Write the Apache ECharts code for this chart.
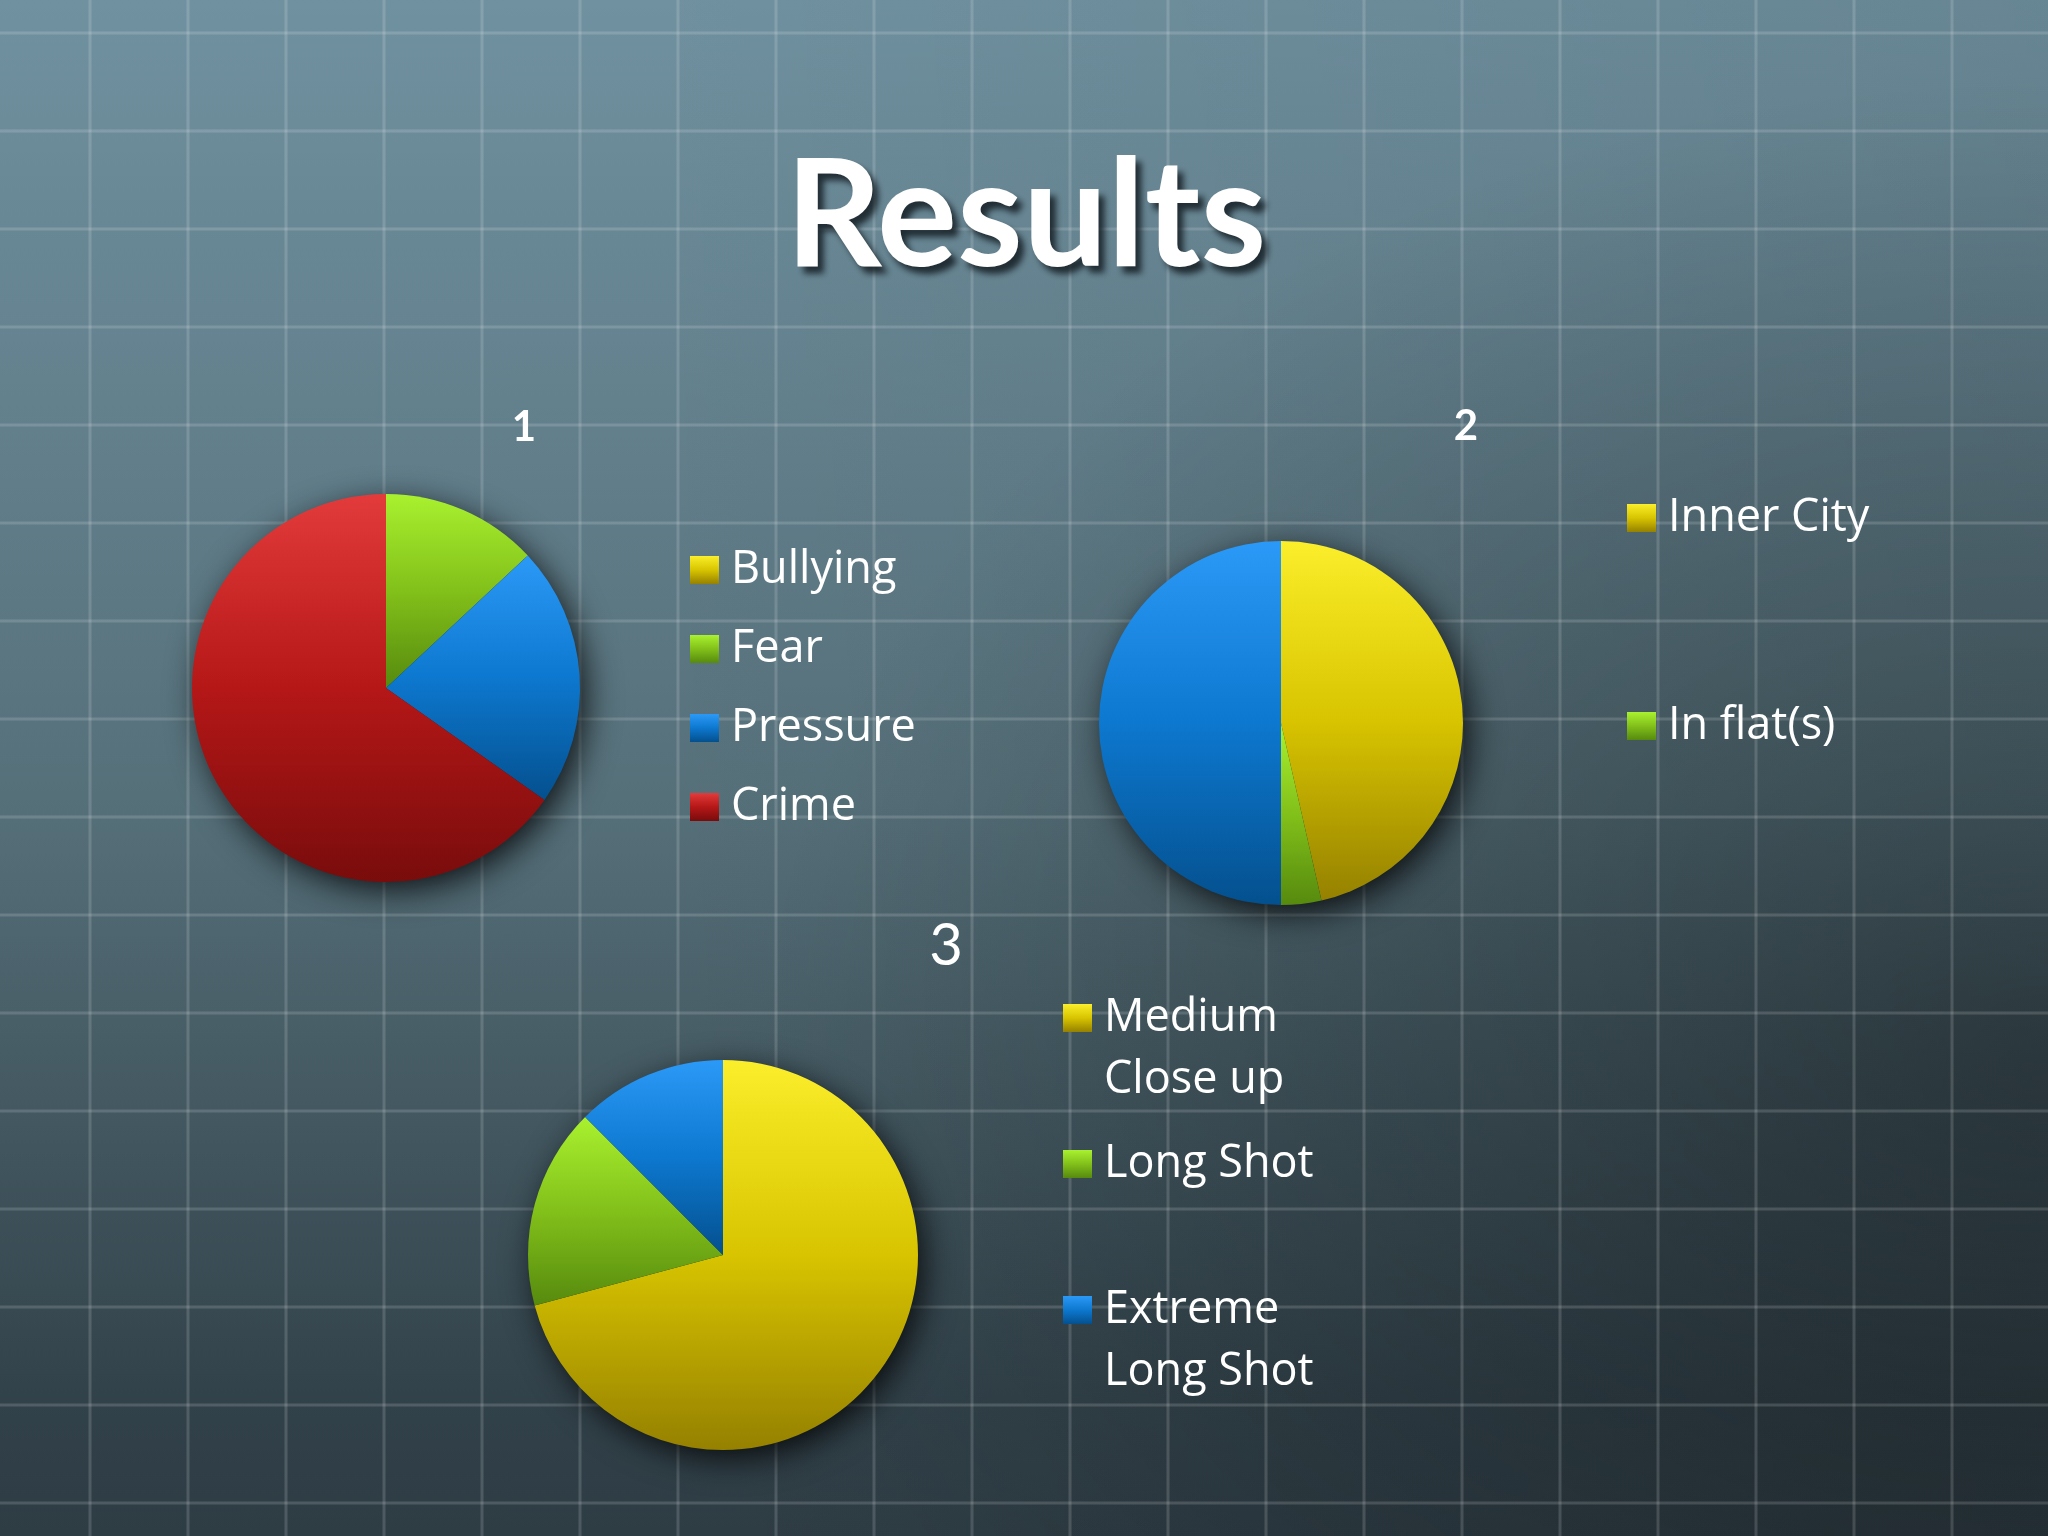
<!DOCTYPE html>
<html>
<head>
<meta charset="utf-8">
<script src="https://cdn.jsdelivr.net/npm/echarts@6/dist/echarts.min.js"></script>
<style>
html, body { margin: 0; padding: 0; width: 2048px; height: 1536px; overflow: hidden; }
body {
  background:
    linear-gradient(to right, rgba(255,255,255,0.15) 0, rgba(255,255,255,0.15) 3px, rgba(255,255,255,0) 3px),
    linear-gradient(to bottom, rgba(255,255,255,0.15) 0, rgba(255,255,255,0.15) 3px, rgba(255,255,255,0) 3px),
    radial-gradient(ellipse 1300px 1000px at 100% 70%, rgba(0,0,0,0.36), rgba(0,0,0,0) 100%),
    linear-gradient(to right, rgba(0,0,0,0) 30%, rgba(0,0,0,0.08) 100%),
    linear-gradient(to bottom, #7091a0 0%, #56707a 52%, #32424a 91%, #2e3c44 100%);
  background-size: 98px 98px, 98px 98px, 100% 100%, 100% 100%, 100% 100%;
  background-position: 88.5px 0, 0 31.5px, 0 0, 0 0, 0 0;
  background-repeat: repeat, repeat, no-repeat, no-repeat, no-repeat;
}
#chart { width: 2048px; height: 1536px; }
</style>
</head>
<body>
<div id="chart"></div>
<script>
// ---- data ----
const mainTitle = 'Results';
const chartTitles = ['1', '2', '3'];

const categories1 = ['Bullying', 'Fear', 'Pressure', 'Crime'];
const values1 = [0, 3, 5, 15];

const categories2 = ['Inner City', 'In flat(s)', ''];
const values2 = [13, 1, 14];

const categories3 = ['Medium\nClose up', 'Long Shot', 'Extreme\nLong Shot'];
const values3 = [17, 4, 3];

// ---- styles ----
const STOPS = {
  yellow: ['#fbee2a', '#d8c400', '#958100'],
  green:  ['#a9f12f', '#82c01a', '#568a0e'],
  blue:   ['#2b99f7', '#0d78cf', '#04508e'],
  red:    ['#e33b3b', '#b51717', '#790c0c']
};
function grad(key) {
  const s = STOPS[key];
  return new echarts.graphic.LinearGradient(0, 0, 0, 1, [
    { offset: 0, color: s[0] }, { offset: 0.5, color: s[1] }, { offset: 1, color: s[2] }
  ]);
}
const colors1 = ['yellow', 'green', 'blue', 'red'];
const colors2 = ['yellow', 'green', 'blue'];
const colors3 = ['yellow', 'green', 'blue'];

function pieData(cats, vals, cols) {
  return cats.map((c, i) => ({ name: c, value: vals[i], itemStyle: { color: grad(cols[i]) } }));
}
function sum(a) { return a.reduce((p, v) => p + v, 0); }

const pies = [
  { center: [386, 688], r: 194, cats: categories1, vals: values1, cols: colors1 },
  { center: [1281, 723], r: 182, cats: categories2, vals: values2, cols: colors2 },
  { center: [723, 1255], r: 195, cats: categories3, vals: values3, cols: colors3 }
];

const series = [];
pies.forEach((p, k) => {
  series.push({
    type: 'pie', z: 1, silent: true, animation: false,
    center: p.center, radius: p.r - 2, startAngle: 90,
    label: { show: false }, labelLine: { show: false },
    itemStyle: { color: '#1a2126', shadowBlur: 34, shadowColor: 'rgba(0,0,0,0.85)', shadowOffsetX: 7, shadowOffsetY: 9 },
    data: [{ name: '__shadow' + k, value: sum(p.vals) }]
  });
  series.push({
    type: 'pie', z: 2, animation: false, silent: true,
    center: p.center, radius: p.r, startAngle: 90, clockwise: true,
    label: { show: false }, labelLine: { show: false },
    emphasis: { disabled: true },
    data: pieData(p.cats, p.vals, p.cols)
  });
});

// multi-line names: an empty leading line keeps the first text line level with the marker
function legend(names, left, top, gap, leadLine) {
  return {
    data: names, orient: 'vertical', left: left, top: top, itemGap: gap,
    itemWidth: 29, itemHeight: 28, icon: 'rect', selectedMode: false, padding: 0,
    formatter: leadLine ? (n => '\n' + n) : (n => n),
    textStyle: { color: '#ffffff', fontFamily: 'Open Sans', fontSize: 45, lineHeight: 62, padding: [0, 0, 0, 7] }
  };
}

const titleBase = { padding: 0, textAlign: 'center', textVerticalAlign: 'middle' };

const option = {
  backgroundColor: 'transparent',
  animation: false,
  title: [
    Object.assign({}, titleBase, {
      text: mainTitle, left: 1026, top: 218,
      textStyle: { color: '#ffffff', fontFamily: 'Lato', fontWeight: 'bold', fontSize: 150,
        textShadowColor: 'rgba(15,22,28,0.8)', textShadowBlur: 6, textShadowOffsetX: 6, textShadowOffsetY: 7 }
    }),
    Object.assign({}, titleBase, {
      text: chartTitles[0], left: 524, top: 427,
      textStyle: { color: '#ffffff', fontFamily: 'Lato', fontWeight: 'bold', fontSize: 42 }
    }),
    Object.assign({}, titleBase, {
      text: chartTitles[1], left: 1466, top: 426,
      textStyle: { color: '#ffffff', fontFamily: 'Lato', fontWeight: 'bold', fontSize: 42 }
    }),
    Object.assign({}, titleBase, {
      text: chartTitles[2], left: 946, top: 946,
      textStyle: { color: '#ffffff', fontFamily: 'Lato', fontWeight: 'normal', fontSize: 58 }
    })
  ],
  legend: [
    legend(categories1, 690, 539, 17, false),
    legend([categories2[0], categories2[1]], 1627, 487, 146, false),
    legend([categories3[0]], 1063, 925, 0, true),
    legend([categories3[1]], 1063, 1133, 0, false),
    legend([categories3[2]], 1063, 1217, 0, true)
  ],
  series: series
};

const chart = echarts.init(document.getElementById('chart'), null, { renderer: 'canvas' });
chart.setOption(option);
</script>
</body>
</html>
